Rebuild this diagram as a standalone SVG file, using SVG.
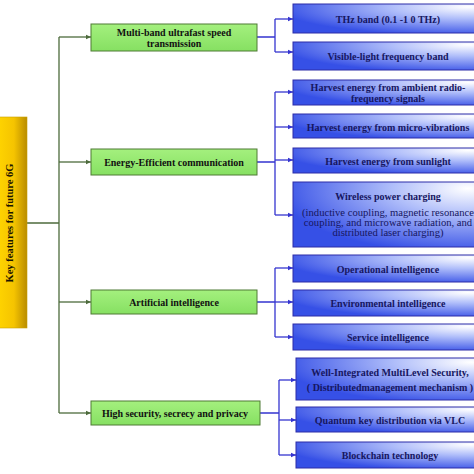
<svg xmlns="http://www.w3.org/2000/svg" width="474" height="474" viewBox="0 0 474 474">
<style>
text{font-family:"Liberation Serif","DejaVu Serif",serif;font-size:10px;text-anchor:middle;dominant-baseline:central}
.g rect{fill:url(#gg);stroke:#4f7a34;stroke-width:1}
.g text{font-weight:bold;fill:#111}
.b rect{fill:url(#bg);stroke:#2c2ca8;stroke-width:1}
.b text{font-weight:bold;fill:#161660}
.b text.n{font-weight:normal;font-size:10.6px}
.gl{stroke:#4d6b3c;stroke-width:1.3;fill:none}
.bl{stroke:#3535d0;stroke-width:1.3;fill:none}
</style>
<defs>
<linearGradient id="yg" x1="0" y1="0" x2="1" y2="0"><stop offset="0" stop-color="#ffd400"/><stop offset="0.55" stop-color="#f5c400"/><stop offset="1" stop-color="#b98c00"/></linearGradient>
<linearGradient id="gg" x1="0" y1="0" x2="0" y2="1"><stop offset="0" stop-color="#a4f07e"/><stop offset="1" stop-color="#86e062"/></linearGradient>
<radialGradient id="bg" cx="0.92" cy="0.1" r="1" fx="0.92" fy="0.1"><stop offset="0" stop-color="#ffffff"/><stop offset="0.4" stop-color="#b0befa"/><stop offset="1" stop-color="#3650e6"/></radialGradient>
<marker id="ag" markerWidth="6" markerHeight="6" refX="5" refY="3" orient="auto" markerUnits="userSpaceOnUse"><path d="M0,0.8 L5,3 L0,5.2 Z" fill="#4d6b3c"/></marker>
<marker id="ab" markerWidth="6" markerHeight="6" refX="5" refY="3" orient="auto" markerUnits="userSpaceOnUse"><path d="M0,0.8 L5,3 L0,5.2 Z" fill="#3535d0"/></marker>
</defs>
<rect width="474" height="474" fill="#fff"/>
<g id="connectors">
<path class="gl" d="M27,223 H59 M59,37 V413"/>
<path class="gl" d="M59,37 H91" marker-end="url(#ag)"/>
<path class="gl" d="M59,162 H91" marker-end="url(#ag)"/>
<path class="gl" d="M59,302 H91" marker-end="url(#ag)"/>
<path class="gl" d="M59,413 H91" marker-end="url(#ag)"/>
<path class="bl" d="M257,37 H275 M275,19 V52"/>
<path class="bl" d="M275,19 H293" marker-end="url(#ab)"/>
<path class="bl" d="M275,52 H293" marker-end="url(#ab)"/>
<path class="bl" d="M257,162 H275 M275,92 V215"/>
<path class="bl" d="M275,92 H293" marker-end="url(#ab)"/>
<path class="bl" d="M275,127 H293" marker-end="url(#ab)"/>
<path class="bl" d="M275,160 H293" marker-end="url(#ab)"/>
<path class="bl" d="M275,215 H293" marker-end="url(#ab)"/>
<path class="bl" d="M257,302 H275 M275,268 V337"/>
<path class="bl" d="M275,268 H293" marker-end="url(#ab)"/>
<path class="bl" d="M275,302 H293" marker-end="url(#ab)"/>
<path class="bl" d="M275,337 H293" marker-end="url(#ab)"/>
<path class="bl" d="M260,413 H279 M279,380 V455"/>
<path class="bl" d="M279,380 H296" marker-end="url(#ab)"/>
<path class="bl" d="M279,420 H296" marker-end="url(#ab)"/>
<path class="bl" d="M279,455 H296" marker-end="url(#ab)"/>
</g>
<g id="root">
<rect x="-2" y="117" width="29" height="211" fill="url(#yg)" stroke="#c9a200" stroke-width="0.6"/>
<text transform="translate(9,223) rotate(-90)" style="font-weight:bold;fill:#1a1400;font-size:10.5px">Key features for future 6G</text>
</g>
<g id="g1" class="g"><rect x="91" y="24" width="166" height="27"/><text x="174" y="32">Multi-band ultrafast speed</text><text x="174" y="43">transmission</text></g>
<g id="g2" class="g"><rect x="91" y="149" width="166" height="26"/><text x="174" y="162">Energy-Efficient communication</text></g>
<g id="g3" class="g"><rect x="91" y="290" width="166" height="24"/><text x="174" y="302">Artificial intelligence</text></g>
<g id="g4" class="g"><rect x="91" y="401" width="169" height="24"/><text x="175" y="413">High security, secrecy and privacy</text></g>
<g id="b1" class="b"><rect x="293" y="4" width="190" height="29"/><text x="388" y="19">THz band (0.1 -1 0 THz)</text></g>
<g id="b2" class="b"><rect x="293" y="42" width="190" height="28"/><text x="388" y="56">Visible-light frequency band</text></g>
<g id="b3" class="b"><rect x="293" y="80" width="190" height="25"/><text x="388" y="87.5">Harvest energy from ambient radio-</text><text x="388" y="98.5">frequency signals</text></g>
<g id="b4" class="b"><rect x="293" y="114" width="190" height="24"/><text x="388" y="127">Harvest energy from micro-vibrations</text></g>
<g id="b5" class="b"><rect x="293" y="148" width="190" height="25"/><text x="388" y="161">Harvest energy from sunlight</text></g>
<g id="b6" class="b"><rect x="293" y="182" width="190" height="65"/><text x="388" y="196">Wireless power charging</text><text class="n" x="388" y="212">(inductive coupling, magnetic resonance</text><text class="n" x="388" y="222">coupling, and microwave radiation, and</text><text class="n" x="388" y="232">distributed laser charging)</text></g>
<g id="b7" class="b"><rect x="293" y="255" width="190" height="27"/><text x="388" y="269">Operational intelligence</text></g>
<g id="b8" class="b"><rect x="293" y="290" width="190" height="26"/><text x="388" y="303">Environmental intelligence</text></g>
<g id="b9" class="b"><rect x="293" y="324" width="190" height="26"/><text x="388" y="337">Service intelligence</text></g>
<g id="b10" class="b"><rect x="296" y="358" width="190" height="42"/><text x="390" y="372">Well-Integrated MultiLevel Security,</text><text x="390" y="387">( Distributedmanagement mechanism )</text></g>
<g id="b11" class="b"><rect x="296" y="407" width="190" height="25"/><text x="390" y="420">Quantum key distribution via VLC</text></g>
<g id="b12" class="b"><rect x="296" y="442" width="190" height="26"/><text x="390" y="455">Blockchain technology</text></g>
</svg>
